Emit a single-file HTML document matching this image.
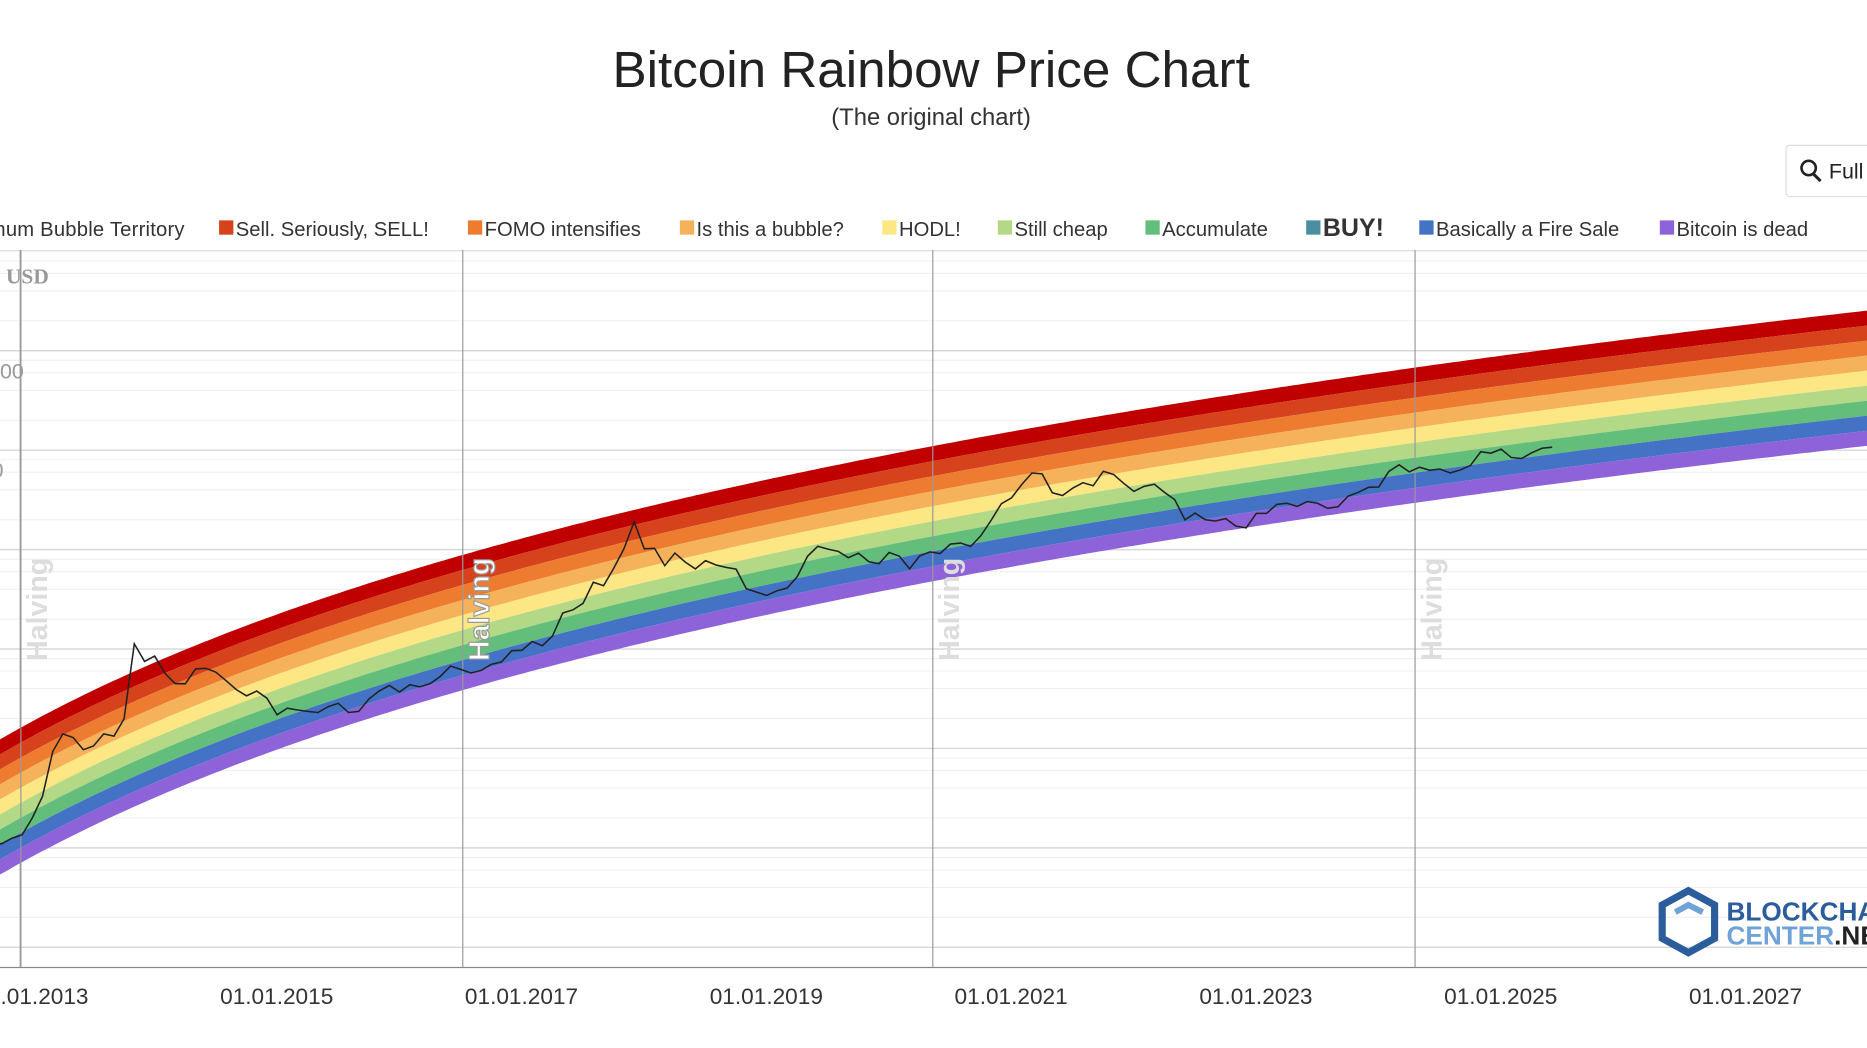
<!DOCTYPE html>
<html><head><meta charset="utf-8"><style>
html,body{margin:0;padding:0;background:#fff;overflow:hidden}
svg{display:block;font-family:"Liberation Sans",sans-serif}
</style></head><body>
<svg id="chart" width="1867" height="1048" viewBox="0 0 1568 880" xmlns="http://www.w3.org/2000/svg">
<rect width="1568" height="880" fill="#fff"/>
<text x="782" y="73" text-anchor="middle" font-size="43" fill="#222">Bitcoin Rainbow Price Chart</text>
<text x="782" y="105" text-anchor="middle" font-size="20" fill="#333">(The original chart)</text>
<g>
<rect x="1500" y="122" width="80" height="43" rx="3" fill="#fff" stroke="#ddd"/>
<circle cx="1519" cy="141" r="6" fill="none" stroke="#222" stroke-width="2.2"/>
<line x1="1523" y1="146" x2="1529" y2="152" stroke="#222" stroke-width="2.6"/>
<text x="1536" y="150" font-size="18" fill="#222">Full</text>
</g>
<g id="legend"></g>
<g id="grid"></g>
<g id="bands"></g>
<g id="halvings"></g>
<path id="price" fill="none" stroke="#222" stroke-width="1.3"/>
<line x1="0" y1="812.5" x2="1568" y2="812.5" stroke="#888" stroke-width="1"/>
<g id="xlabels"></g>
<text x="5" y="238" font-family="Liberation Serif,serif" font-weight="bold" font-size="18" fill="#999">USD</text>
<text x="20" y="318" text-anchor="end" font-size="18" fill="#999">1000000</text>
<text x="3" y="401" text-anchor="end" font-size="18" fill="#999">0</text>
<g>
<path d="M1418 748 L1440 760 L1440 788 L1418 800 L1396 788 L1396 760 Z" fill="none" stroke="#2b5d9c" stroke-width="6"/>
<path d="M1407 766 L1418 760 L1430 766" fill="none" stroke="#6fa3d8" stroke-width="5"/>
<text x="1450" y="773" font-size="22" font-weight="bold" fill="#2b5d9c">BLOCKCHAIN</text>
<text x="1450" y="793" font-size="22" font-weight="bold" fill="#6fa3d8">CENTER<tspan fill="#222">.NET</tspan></text>
</g>
</svg>
<script>
const legendLabels=["Maximum Bubble Territory","Sell. Seriously, SELL!","FOMO intensifies","Is this a bubble?","HODL!","Still cheap","Accumulate","BUY!","Basically a Fire Sale","Bitcoin is dead"];
const bandColors=["#c00000","#d5421c","#ee7c30","#f5b25a","#fce784","#b3d886","#63be7b","#4a8fa0","#4472c4","#8e63d9"];
const halvingYears=[2012.91,2016.52,2020.36,2024.30];
const xTickYears=[2013,2015,2017,2019,2021,2023,2025,2027,2029];
const priceStart=2012.67;
const priceMonthly=[11,11,12.5,13.5,
20,33,93,140,129,97,106,140,133,198,1130,750,
850,570,450,447,630,640,585,480,390,338,378,320,
218,254,244,236,230,263,284,230,236,314,378,430,
370,437,416,448,531,674,624,575,609,700,742,963,
970,1190,1080,1350,2300,2480,2880,4700,4340,6470,10200,19000,
10200,10300,6900,9240,7500,6400,7730,7030,6630,6370,4040,3740,
3460,3850,4100,5350,8570,10800,10100,9600,8300,9200,7570,7200,
9350,8600,6400,8650,9500,9140,11350,11650,10780,13800,19700,29000,
33100,45200,58900,57700,37300,35000,41500,47100,43800,61300,57000,46300,
38500,43200,45500,37700,31800,19900,23300,20000,19400,20500,17200,16500,
23100,23100,28500,29200,27200,30500,29200,26000,27000,34500,37700,42300,
42600,61200,71300,60600,67500,62700,64600,59000,63300,70200,96400,93400,
102400,84400,82500,94200,104600,107100];
const NS="http://www.w3.org/2000/svg";
function xs(t){return 438+(t-2017)*102.8;}
function ys(p){return 378-83.5*(Math.log10(p)-5);}
function yL(L){return 378-83.5*(L-5);}
function days(t){return (t-2009.01)*365.25;}
function topL(t){return 2.10+2.65*(Math.log(days(t))-7.22);}
function mk(tag,attrs,parent){const e=document.createElementNS(NS,tag);for(const k in attrs)e.setAttribute(k,attrs[k]);parent.appendChild(e);return e;}
const lg=document.getElementById('legend');
const lx=[-60,184,393,571,741,838,962,1097,1192,1394];
legendLabels.forEach((l,i)=>{
 const g=mk('g',{},lg);
 
 
 mk('rect',{x:lx[i],y:185,width:12,height:12,fill:bandColors[i]},g);
 const t=mk('text',{x:lx[i]+14,y:198,'font-size':i==7?21:17,'font-weight':i==7?'bold':'normal',fill:'#333',textLength:i==0?201:null},g);
 if(i!=0)t.removeAttribute('textLength');
 t.textContent=l;
});
const gr=document.getElementById('grid');
mk('line',{x1:0,y1:210.5,x2:1568,y2:210.5,stroke:'#ddd'},gr);
for(let e=0;e<=7;e++){for(const m of [1,2,4,6,8]){const y=ys(m*Math.pow(10,e));if(y<212||y>811)continue;
 const ln=mk('line',{x1:0,y1:y,x2:1568,y2:y,stroke:m==1?'#d8d8d8':'#f0f0f0','stroke-width':m==1?1.2:1},gr);
 
 }}
mk('line',{x1:17,y1:210,x2:17,y2:812,stroke:'#999'},gr);
const bg=document.getElementById('bands');
const bw=1.36/9;
const bandFill=['#c00000','#d5421c','#ee7c30','#f5b25a','#fce784','#b3d886','#63be7b','#4472c4','#8e63d9'];
for(let b=0;b<9;b++){
 let up=[],dn=[];
 for(let x=-5;x<=1575;x+=5){const t=2017+(x-438)/102.8;const L=topL(t);up.push(x+','+yL(L-b*bw).toFixed(1));dn.unshift(x+','+yL(L-(b+1)*bw).toFixed(1));}
 const p=mk('polygon',{points:up.concat(dn).join(' '),fill:bandFill[b]},bg);
 
 
}
const hg=document.getElementById('halvings');
halvingYears.forEach((h,i)=>{const x=xs(h);
 const l=mk('line',{x1:x,y1:210,x2:x,y2:812,stroke:'#999'},hg);
 
 
 const t=mk('text',{x:x+22,y:555,transform:'rotate(-90 '+(x+22)+' 555)','font-size':24,'font-weight':'bold',fill:i==1?'#fff':'#ddd',stroke:i==1?'#999':'none','stroke-width':1},hg);
 
 
 t.textContent='Halving';});
let d='';priceMonthly.forEach((p,i)=>{d+=(i?'L':'M')+xs(priceStart+i/12).toFixed(1)+','+ys(p).toFixed(1);});
document.getElementById('price').setAttribute('d',d);
const xl=document.getElementById('xlabels');
xTickYears.forEach(y=>{const t=mk('text',{x:xs(y),y:843,'text-anchor':'middle','font-size':19,fill:'#333'},xl);
 
 
 t.textContent='01.01.'+y;});
</script>
</body></html>
